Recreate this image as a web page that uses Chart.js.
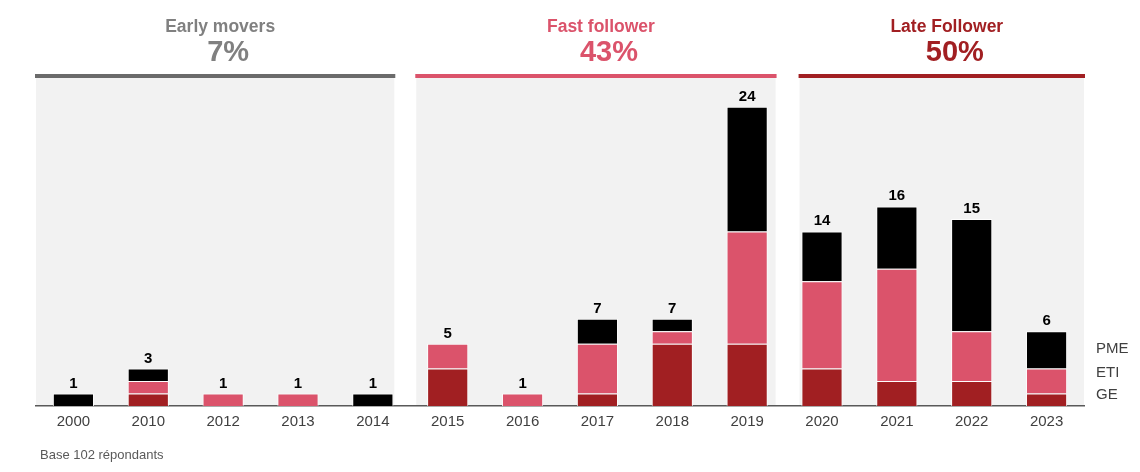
<!DOCTYPE html>
<html lang="fr">
  <head>
    <meta charset="UTF-8" />
    <script src="https://cdn.jsdelivr.net/npm/chart.js@4.4.0/dist/chart.umd.min.js"></script>
    <title>Early movers / Fast follower / Late Follower</title>
    <style>
      body { margin: 0; background: #fff; }
      .canvas-container { position: relative; width: 1140px; height: 472px; }
    </style>
  </head>
  <body>
    <div class="canvas-container">
      <canvas id="myChart" width="1140" height="472"></canvas>
    </div>

    <script>
      // values (number of respondents)
      const years = ["2000", "2010", "2012", "2013", "2014", "2015", "2016", "2017", "2018", "2019", "2020", "2021", "2022", "2023"];
      const ge  = [0, 1, 0, 0, 0, 3, 0, 1, 5, 5, 3, 2, 2, 1];
      const eti = [0, 1, 1, 1, 0, 2, 1, 4, 1, 9, 7, 9, 4, 2];
      const pme = [1, 1, 0, 0, 1, 0, 0, 2, 1, 10, 4, 5, 9, 3];

      // groups: first / last category index, title, share
      const groupNames = ["Early movers", "Fast follower", "Late Follower"];
      const groupShares = ["7%", "43%", "50%"];
      const groupStart = [0, 5, 10];
      const groupEnd = [4, 9, 13];

      const groupColors = ["#808080", "#DB536B", "#A11F22"];
      const lineColors = ["#6B6B6B", "#DB536B", "#A11F22"];
      const insets = [[0, -16], [6, -9], [15, 0]];

      const totals = years.map((y, i) => ge[i] + eti[i] + pme[i]);

      const font = "'Liberation Sans', Arial, sans-serif";

      const decor = {
        id: "decor",
        beforeDraw(chart) {
          const { ctx, chartArea } = chart;
          const x = chart.scales.x;
          const half = (x.getPixelForValue(1) - x.getPixelForValue(0)) / 2;
          ctx.save();
          groupNames.forEach((name, g) => {
            const left = x.getPixelForValue(groupStart[g]) - half + insets[g][0];
            const right = x.getPixelForValue(groupEnd[g]) + half + insets[g][1];
            ctx.fillStyle = "#F2F2F2";
            ctx.fillRect(left, chartArea.top, right - left, chartArea.bottom - chartArea.top);
            ctx.fillStyle = lineColors[g];
            ctx.fillRect(left - 1, chartArea.top - 4, right - left + 2, 4);
            const mid = (left + right) / 2;
            ctx.textAlign = "center";
            ctx.textBaseline = "alphabetic";
            ctx.fillStyle = groupColors[g];
            ctx.font = "bold 17.5px " + font;
            ctx.fillText(name, mid + 5, 32);
            ctx.font = "bold 29px " + font;
            ctx.fillText(groupShares[g], mid + 13, 61);
          });
          ctx.restore();
        },
        afterDatasetsDraw(chart) {
          const { ctx, chartArea } = chart;
          const x = chart.scales.x;
          const y = chart.scales.y;
          ctx.save();
          ctx.fillStyle = "#000";
          ctx.font = "bold 15px " + font;
          ctx.textAlign = "center";
          ctx.textBaseline = "alphabetic";
          totals.forEach((t, i) => {
            ctx.fillText(String(t), x.getPixelForValue(i), y.getPixelForValue(t) - 6);
          });
          // series labels on the right
          ctx.fillStyle = "#404040";
          ctx.font = "15px " + font;
          ctx.textAlign = "left";
          ctx.textBaseline = "middle";
          ctx.fillText("PME", chartArea.right + 12, chartArea.bottom - 57);
          ctx.fillText("ETI", chartArea.right + 12, chartArea.bottom - 33);
          ctx.fillText("GE", chartArea.right + 12, chartArea.bottom - 11);
          // footnote
          ctx.fillStyle = "#595959";
          ctx.font = "13px " + font;
          ctx.fillText("Base 102 répondants", 40, 455);
          ctx.restore();
        },
      };

      const ctx = document.getElementById("myChart").getContext("2d");
      const myChart = new Chart(ctx, {
        type: "bar",
        data: {
          labels: years,
          datasets: [
            { label: "GE", data: ge, backgroundColor: "#A11F22" },
            { label: "ETI", data: eti, backgroundColor: "#DB536B" },
            { label: "PME", data: pme, backgroundColor: "#000000" },
          ],
        },
        options: {
          responsive: false,
          animation: false,
          layout: { padding: { left: 36, right: 56, top: 78, bottom: 34 } },
          datasets: {
            bar: {
              barPercentage: 0.55,
              categoryPercentage: 1,
              borderColor: "rgba(255,255,255,0.85)",
              borderWidth: 1,
              borderSkipped: "start",
            },
          },
          plugins: {
            legend: { display: false },
            tooltip: { enabled: false },
          },
          scales: {
            x: {
              stacked: true,
              grid: { display: false, drawTicks: false },
              border: { display: true, color: "#595959", width: 1.5 },
              ticks: { color: "#404040", font: { family: font, size: 15 }, padding: 7, maxRotation: 0 },
            },
            y: {
              stacked: true,
              display: false,
              min: 0,
              max: 26.3,
            },
          },
        },
        plugins: [decor],
      });
    </script>
  </body>
</html>
